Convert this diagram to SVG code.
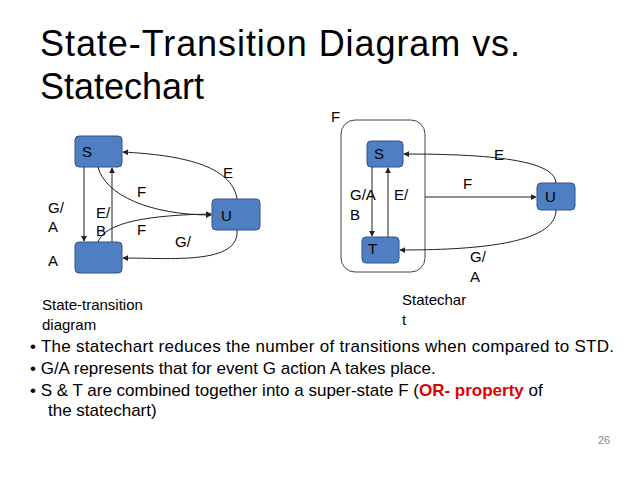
<svg xmlns="http://www.w3.org/2000/svg" width="638" height="478" viewBox="0 0 638 478">
<defs>
<style>
text{font-family:"Liberation Sans",Arial,sans-serif;fill:#000}
.n{fill:#4f7fc0;stroke:#2f528f;stroke-width:1}
.c{fill:none;stroke:#222;stroke-width:1;marker-end:url(#a)}
.l{font-size:15px}
.b{font-size:17px}
</style>
<marker id="a" viewBox="0 0 8 8" refX="7" refY="4" markerWidth="6" markerHeight="6" orient="auto"><path d="M0,0L8,4L0,8z" fill="#222"/></marker>
</defs>
<rect width="638" height="478" fill="#fff"/>
<text x="40" y="56" font-size="36" textLength="480">State-Transition Diagram vs.</text>
<text x="40" y="99" font-size="36">Statechart</text>
<g id="L_S"><rect class="n" x="75" y="136" width="47" height="31" rx="4"/><text class="l" x="82" y="157">S</text></g>
<g id="L_T"><rect class="n" x="75" y="242" width="47" height="31" rx="4"/></g>
<g id="L_U"><rect class="n" x="212" y="199" width="48" height="31" rx="4"/><text class="l" x="221" y="221">U</text></g>
<g id="R_F"><rect x="341" y="120" width="84" height="152" rx="14" fill="none" stroke="#444"/><text class="l" x="331" y="122">F</text></g>
<g id="R_S"><rect class="n" x="367" y="141" width="36" height="26" rx="4"/><text class="l" x="374" y="159">S</text></g>
<g id="R_T"><rect class="n" x="362" y="237" width="37" height="26" rx="4"/><text class="l" x="368" y="254">T</text></g>
<g id="R_U"><rect class="n" x="537" y="183" width="38" height="27" rx="4"/><text class="l" x="545" y="202">U</text></g>
<g id="connectors">
<path class="c" d="M84,167V241"/>
<path class="c" d="M112,242V168"/>
<path class="c" d="M237,199C232,165 180,155 123,152"/>
<path class="c" d="M98,167C105,195 150,215 211,215"/>
<path class="c" d="M98,242C105,222 150,215 211,214"/>
<path class="c" d="M237,230C240,265 170,258 123,258"/>
<path class="c" d="M372,167V236"/>
<path class="c" d="M388,237V168"/>
<path class="c" d="M556,183C555,160 490,154 404,154"/>
<path class="c" d="M425,197H536"/>
<path class="c" d="M556,210C556,245 470,250 400,250"/>
</g>
<g id="labels">
<text class="l" x="223" y="178">E</text>
<text class="l" x="137" y="197">F</text>
<text class="l" x="137" y="235">F</text>
<text class="l" x="175" y="247">G/</text>
<text class="l" x="48" y="213">G/</text>
<text class="l" x="48" y="232">A</text>
<text class="l" x="48" y="266">A</text>
<text class="l" x="96" y="218">E/</text>
<text class="l" x="96" y="236">B</text>
<text class="l" x="350" y="200">G/A</text>
<text class="l" x="350" y="220">B</text>
<text class="l" x="394" y="200">E/</text>
<text class="l" x="494" y="160">E</text>
<text class="l" x="463" y="189">F</text>
<text class="l" x="470" y="262">G/</text>
<text class="l" x="470" y="282">A</text>
<text class="l" x="42" y="310">State-transition</text>
<text class="l" x="42" y="330">diagram</text>
<text class="l" x="402" y="305">Statechar</text>
<text class="l" x="402" y="325">t</text>
</g>
<text class="b" x="30" y="352" textLength="584">• The statechart reduces the number of transitions when compared to  STD.</text>
<text class="b" x="30" y="374">• G/A represents that for event G action A takes place.</text>
<text class="b" x="30" y="396">• S &amp; T are combined together into a super-state F (<tspan fill="#e00000" font-weight="bold">OR- property</tspan> of</text>
<text class="b" x="48" y="416">the  statechart)</text>
<text x="598" y="444" font-size="11" style="fill:#888">26</text>
</svg>
